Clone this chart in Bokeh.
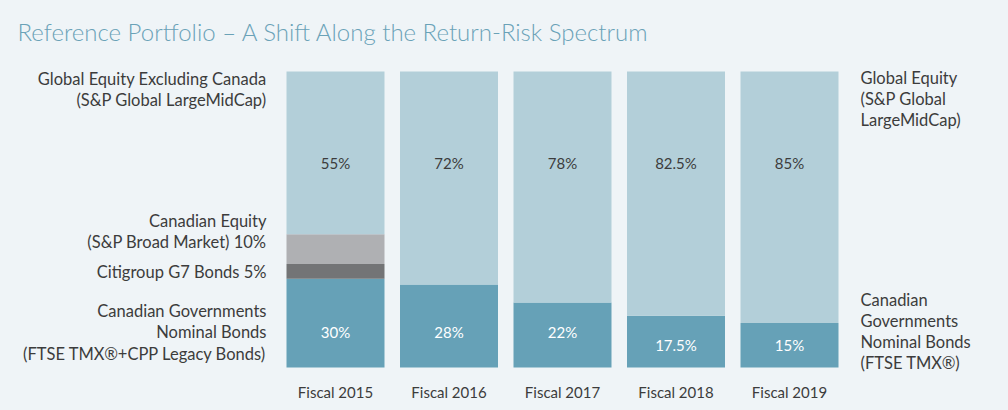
from bokeh.plotting import figure
from bokeh.models import Label, ColumnDataSource, Range1d
from bokeh.core.properties import value
from bokeh.embed import file_html
from bokeh.resources import INLINE

# ---- data ----
years = ["Fiscal 2015", "Fiscal 2016", "Fiscal 2017", "Fiscal 2018", "Fiscal 2019"]
cdn_gov_bonds = [30, 28, 22, 17.5, 15]
citigroup_g7 = [5, 0, 0, 0, 0]
canadian_equity = [10, 0, 0, 0, 0]
global_equity = [55, 72, 78, 82.5, 85]
bond_labels = ["30%", "28%", "22%", "17.5%", "15%"]
equity_labels = ["55%", "72%", "78%", "82.5%", "85%"]

left_labels = [
    ["Global Equity Excluding Canada", "(S&P Global LargeMidCap)"],
    ["Canadian Equity", "(S&P Broad Market) 10%"],
    ["Citigroup G7 Bonds 5%"],
    ["Canadian Governments", "Nominal Bonds", "(FTSE TMX®+CPP Legacy Bonds)"],
]
right_labels = [
    ["Global Equity", "(S&P Global", "LargeMidCap)"],
    ["Canadian", "Governments", "Nominal Bonds", "(FTSE TMX®)"],
]
title_text = "Reference Portfolio \u2013 A Shift Along the Return-Risk Spectrum"

# ---- layout / style ----
BG = "#EFF4F7"
TXT = "#3C3C3C"
FONT = "Lato"
W, H = 1008, 410
PITCH = 113.5          # px per category
X0 = 278.25            # px where category axis starts
Y0, Y100 = 367, 71     # px of 0% and 100%
PXY = (Y0 - Y100) / 100.0

x_start, x_end = -X0 / PITCH, (W - X0) / PITCH
y_start, y_end = -(H - Y0) / PXY, 100 + Y100 / PXY


def dx(px):
    return x_start + px / PITCH


def dy(py):
    return y_end - py / PXY


p = figure(x_range=Range1d(x_start, x_end), y_range=Range1d(y_start, y_end), width=W, height=H,
           output_backend="svg", toolbar_location=None, x_axis_type=None, y_axis_type=None,
           min_border=0)
p.background_fill_color = BG
p.border_fill_color = BG
p.outline_line_color = None
p.grid.visible = False

xs = [i + 0.5 for i in range(len(years))]
src = ColumnDataSource(dict(
    x=xs, years=years, bonds=cdn_gov_bonds, g7=citigroup_g7, cdn=canadian_equity, glob=global_equity,
    blab=bond_labels, elab=equity_labels,
    by=[dy(331) if b >= 20 else dy(344) for b in cdn_gov_bonds],
    ey=[dy(162)] * len(years),
    yy=[dy(391)] * len(years),
))

p.vbar_stack(["bonds", "g7", "cdn", "glob"], x="x", width=98 / PITCH,
             fill_color=["#66A1B7", "#737476", "#AFB0B3", "#B3CFD9"], line_color=None, source=src)

common = dict(text_font=value(FONT), text_font_size="15px", text_baseline="middle")
p.text(x="x", y="by", text="blab", source=src, text_align="center", text_color="white", **common)
p.text(x="x", y="ey", text="elab", source=src, text_align="center", text_color=TXT, **common)
p.text(x="x", y="yy", text="years", source=src, text_align="center", text_color=TXT, **common)

# side labels
SIDE = "16.5px"
left_y = [[78, 99], [220, 241], [271], [310, 331, 353]]
for lines, ys in zip(left_labels, left_y):
    for t, yy in zip(lines, ys):
        p.add_layout(Label(x=dx(266), y=dy(yy), text=t, text_align="right", text_baseline="middle",
                           text_font=FONT, text_font_size=SIDE, text_color=TXT))
right_y = [[77, 98, 119], [299, 320, 341, 362]]
for lines, ys in zip(right_labels, right_y):
    for t, yy in zip(lines, ys):
        p.add_layout(Label(x=dx(860), y=dy(yy), text=t, text_align="left", text_baseline="middle",
                           text_font=FONT, text_font_size=SIDE, text_color=TXT))

p.add_layout(Label(x=dx(17), y=dy(31), text=title_text, text_align="left", text_baseline="middle",
                   text_font="Lato Light, Lato", text_font_size="24px", text_color="#6AA2B7"))

html = file_html(p, INLINE)
html = html.replace("<head>", "<head><style>body{background:%s;}</style>" % BG, 1)
open("out.html", "w").write(html)
